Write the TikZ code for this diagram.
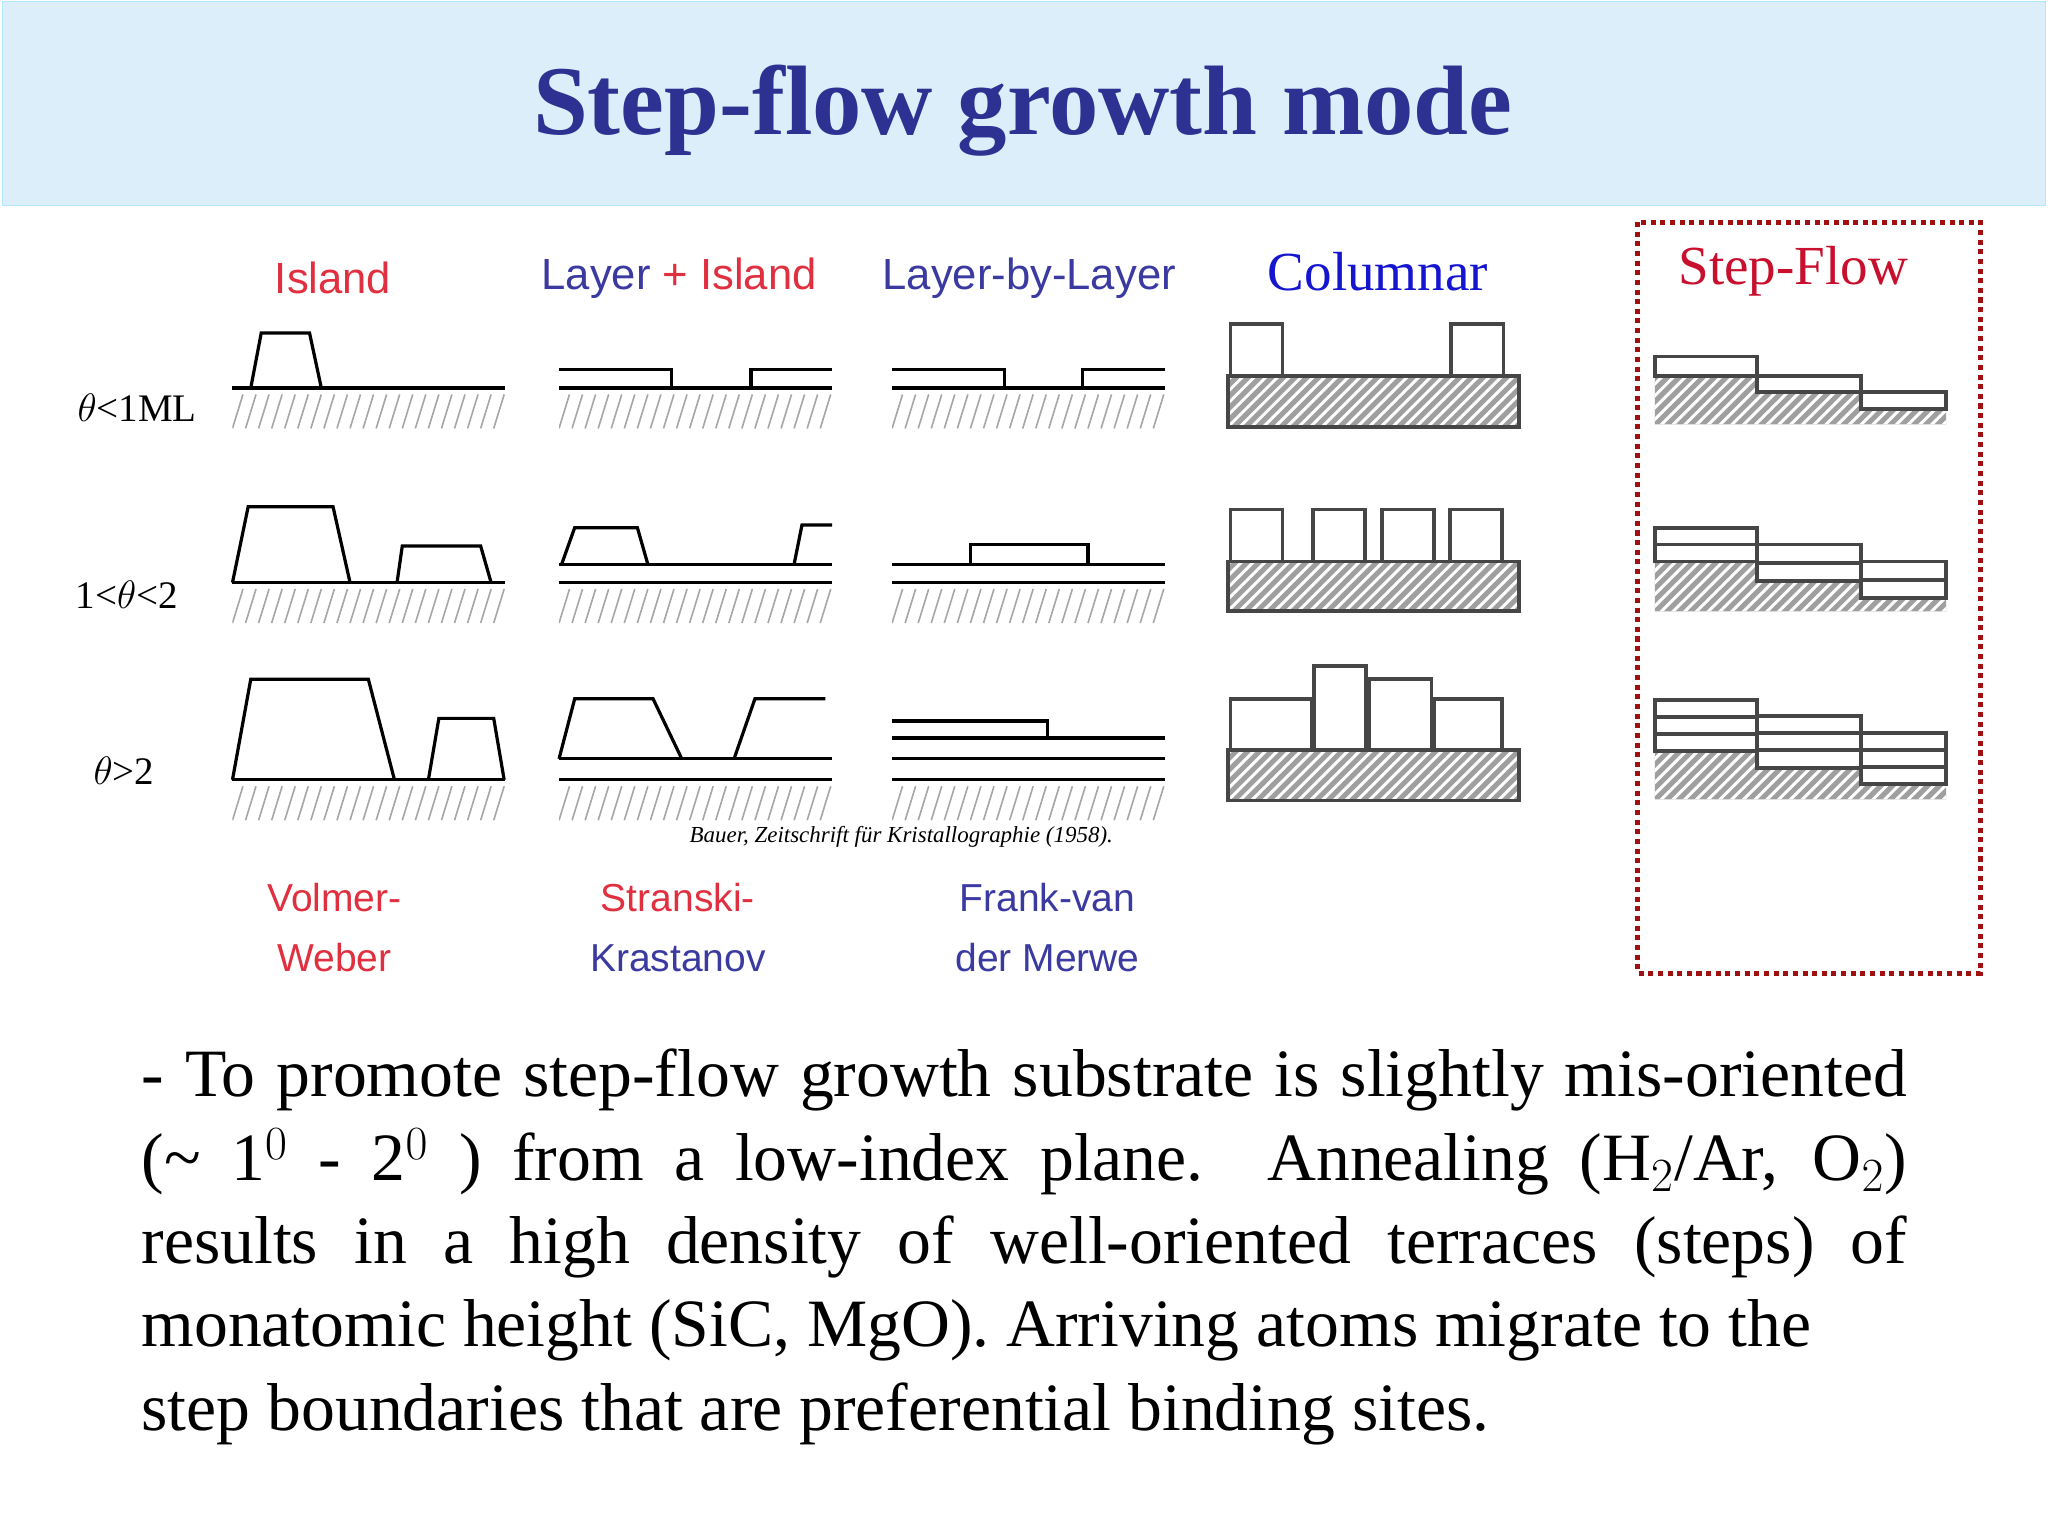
\documentclass[tikz,border=0pt]{standalone}
\usepackage{fontspec}
\setmainfont{Liberation Serif}
\newfontfamily\arialf{Liberation Sans}
\definecolor{ttl}{HTML}{2E3192}
\definecolor{lblred}{HTML}{E03040}
\definecolor{lblblue}{HTML}{3A3AA0}
\definecolor{colblue}{HTML}{1515D0}
\definecolor{sfred}{HTML}{C8102E}
\definecolor{boxred}{HTML}{A01010}
\definecolor{hdr}{HTML}{DCEEFA}
\tikzset{
 ol/.style={line width=1.4pt,black},
 hl/.style={line width=0.7pt,gray!70},
 gbox/.style={line width=1.6pt,gray!55!black},
 toplbl/.style={font=\arialf\fontsize{19}{22}\selectfont},
 botlbl/.style={font=\arialf\fontsize{17}{26}\selectfont,align=center},
 rowlbl/.style={font=\fontsize{17}{20}\selectfont},
}
\newcommand\hatchsurf[3]{%
 \draw[ol] (#1,#3) -- (#2,#3);
 \begin{scope}\clip (#1,#3) rectangle (#2,#3+32);
 \foreach \i in {0,...,22}{\draw[hl] ({#1+10*\i+8},#3+5) -- ++(-8,26);}
 \end{scope}}
\newcommand\hrect[4]{%
 \fill[gray!75] (#1,#2) rectangle (#3,#4);
 \begin{scope}\clip (#1,#2) rectangle (#3,#4);
 \foreach \i in {0,...,32}{\draw[white,line width=1.3pt] ({#1-45+9*\i},#4) -- ++(45,-45);}
 \end{scope}
 \draw[gbox] (#1,#2) rectangle (#3,#4);}
\newcommand\hpoly[2]{%
 \fill[gray!75] #1;
 \begin{scope}\clip #1;
 \foreach \i in {0,...,32}{\draw[white,line width=1.3pt] ({1267-45+9*\i},#2) -- ++(45,-45);}
 \end{scope}}
\begin{document}
\begin{tikzpicture}[x=0.02cm,y=-0.02cm]
\useasboundingbox (0,0) rectangle (1568,1176);
\fill[white] (0,0) rectangle (1568,1176);
% header
\draw[fill=hdr,draw=cyan!30] (2,1) rectangle (1566,157);
\node[font=\bfseries\fontsize{43}{48}\selectfont,text=ttl] (title) at (783,85) {Step-flow growth mode};
% column labels
\node[toplbl,text=lblred] (l1) at (255,213) {Island};
\node[toplbl] (l2) at (520,213) {\textcolor{lblblue}{Layer} \textcolor{lblred}{+ Island}};
\node[toplbl,text=lblblue] (l3) at (788,213) {Layer-by-Layer};
\node[font=\fontsize{24}{28}\selectfont,text=colblue] (l4) at (1055,208) {Columnar};
\node[font=\fontsize{24}{28}\selectfont,text=sfred] (l5) at (1373,208) {Step-Flow};
\draw[boxred,line width=2.2pt,dotted] (1254,170) rectangle (1516,745);
% row labels
\node[rowlbl] (r1) at (105,312) {$\theta$<1ML};
\node[rowlbl] (r2) at (97,455) {1<$\theta$<2};
\node[rowlbl] (r3) at (95,590) {$\theta$>2};
% substrates
\foreach \x/\w in {178/387,428/637,683/892}{
 \hatchsurf{\x}{\w}{297}
 \hatchsurf{\x}{\w}{446}
 \hatchsurf{\x}{\w}{597}}
% row1
\draw[ol] (192,297)--(200,255)--(237,255)--(246,297);
\draw[ol] (428,283)--(514,283)--(514,297);
\draw[ol] (575,297)--(575,283)--(637,283);
\draw[ol] (683,283)--(769,283)--(769,297);
\draw[ol] (829,297)--(829,283)--(892,283);
% row2
\draw[ol] (178,446)--(190,388)--(255,388)--(268,446);
\draw[ol] (304,446)--(308,418)--(368,418)--(376,446);
\draw[ol] (428,432)--(637,432);
\draw[ol] (430,432)--(440,404)--(488,404)--(496,432);
\draw[ol] (608,432)--(614,402)--(637,402);
\draw[ol] (683,432)--(892,432);
\draw[ol] (743,432)--(743,417)--(833,417)--(833,432);
% row3
\draw[ol] (178,597)--(192,520)--(282,520)--(302,597);
\draw[ol] (328,597)--(336,550)--(378,550)--(386,597);
\draw[ol] (428,581)--(637,581);
\draw[ol] (428,581)--(440,535)--(500,535)--(522,581);
\draw[ol] (562,581)--(578,535)--(632,535);
\draw[ol] (683,552)--(802,552)--(802,565);
\draw[ol] (683,565)--(892,565);
\draw[ol] (683,581)--(892,581);
\node[font=\itshape\fontsize{10}{12}\selectfont] (cite) at (690,641) {Bauer, Zeitschrift f\"ur Kristallographie (1958).};
% bottom labels
\node[botlbl,text=lblred] (b1) at (256,710) {Volmer-\\Weber};
\node[botlbl] (b2) at (519,710) {\textcolor{lblred}{Stranski-}\\\textcolor{lblblue}{Krastanov}};
\node[botlbl,text=lblblue] (b3) at (802,710) {Frank-van\\der Merwe};
% columnar
\hrect{940}{288}{1163}{327}
\draw[gbox] (942,248) rectangle (982,288) (1111,248) rectangle (1151,288);
\hrect{940}{430}{1163}{468}
\draw[gbox] (942,390) rectangle (982,430) (1005,390) rectangle (1045,430)
 (1058,390) rectangle (1098,430) (1110,390) rectangle (1150,430);
\hrect{940}{574}{1163}{613}
\draw[gbox] (942,535) rectangle (1004,574) (1006,510) rectangle (1046,574)
 (1048,520) rectangle (1096,574) (1098,535) rectangle (1150,574);
% step-flow row1
\hpoly{(1267,325) -- (1267,288) -- (1345,288) -- (1345,300) -- (1425,300) -- (1425,313) -- (1490,313) -- (1490,325) -- cycle}{330}
\draw[gbox] (1267,273) rectangle (1345,288) (1345,288) rectangle (1425,300) (1425,300) rectangle (1490,313);
% row2
\hpoly{(1267,468) -- (1267,430) -- (1345,430) -- (1345,445) -- (1425,445) -- (1425,458) -- (1490,458) -- (1490,468) -- cycle}{473}
\draw[gbox] (1267,404) rectangle (1345,430) (1267,417) -- (1345,417)
 (1345,417) rectangle (1425,445) (1345,431) -- (1425,431)
 (1425,430) rectangle (1490,458) (1425,444) -- (1490,444);
% row3
\hpoly{(1267,612) -- (1267,575) -- (1345,575) -- (1345,588) -- (1425,588) -- (1425,600) -- (1490,600) -- (1490,612) -- cycle}{617}
\draw[gbox] (1267,536) rectangle (1345,575) (1267,549) -- (1345,549) (1267,562) -- (1345,562)
 (1345,548) rectangle (1425,588) (1345,561) -- (1425,561) (1345,574) -- (1425,574)
 (1425,561) rectangle (1490,600) (1425,574) -- (1490,574) (1425,587) -- (1490,587);
% body text
\node[anchor=north west,inner sep=0pt,text width=27.04cm,align=justify,font=\fontsize{29.5}{36.3}\selectfont] (body) at (108,803)
{- To promote step-flow growth substrate is slightly mis-oriented\linebreak
(\textasciitilde{} 1$^{0}$ - 2$^{0}$ ) from a low-index plane. Annealing (H$_2$/Ar, O$_2$)\linebreak
results in a high density of well-oriented terraces (steps) of\linebreak
monatomic height (SiC, MgO). Arriving atoms migrate to the\\
step boundaries that are preferential binding sites.};
\end{tikzpicture}
\end{document}
